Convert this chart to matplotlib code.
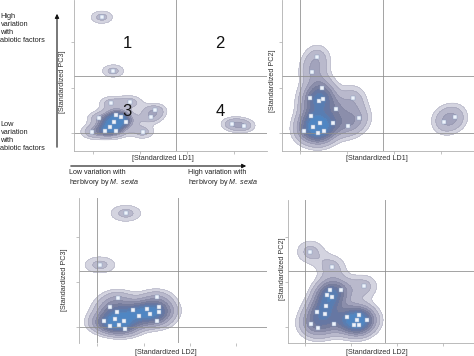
import numpy as np
import matplotlib
matplotlib.use("Agg")
import matplotlib.pyplot as plt
from matplotlib.patches import FancyArrowPatch

plt.rcParams['font.family'] = ['Liberation Sans', 'DejaVu Sans']
plt.rcParams['mathtext.fontset'] = 'custom'
plt.rcParams['mathtext.rm'] = 'Liberation Sans'
plt.rcParams['mathtext.it'] = 'Liberation Sans:italic'

# panel 1: PC3 vs LD1
p1_ld1 = [0.38, 0.13, 0.49, 0.60, 0.45, 0.70, 0.36, 0.26, 0.49, 1.32, 1.23, 1.06, -0.02, 0.80, 0.19, 0.43, 2.96, 3.21]
p1_pc3 = [0.66, 0.33, 0.40, 0.35, 0.24, 0.24, 0.13, 0.04, 0.04, 0.51, 0.35, 0.02, 0.02, 0.68, 2.56, 1.37, 0.20, 0.16]
# panel 2: PC2 vs LD1
p2_ld1 = [0.37, 0.26, 0.48, 0.21, 0.40, 0.50, 1.13, 0.76, 0.23, 1.25, 0.43, 0.70, 0.27, 1.03, 0.09, 0.51, 0.38, 3.06, 3.30]
p2_pc2 = [1.67, 1.35, 0.99, 0.77, 0.71, 0.76, 0.77, 0.53, 0.38, 0.34, 0.21, 0.21, 0.14, 0.16, 0.05, 0.04, -0.01, 0.25, 0.36]
# panel 3: PC3 vs LD2
p3_ld2 = [0.44, 1.28, 0.28, 0.42, 0.78, 1.07, 1.33, 1.14, 1.34, 0.91, 0.39, 0.59, 0.14, 0.48, 1.28, 0.28, 0.60, 0.62, 0.06]
p3_pc3 = [0.65, 0.66, 0.44, 0.33, 0.38, 0.39, 0.44, 0.29, 0.33, 0.24, 0.17, 0.14, 0.12, 0.04, 0.12, 0.02, -0.04, 2.53, 1.38]
# panel 4: PC2 vs LD2
p4_ld2 = [0.11, 0.58, 1.28, 0.54, 0.78, 0.47, 0.59, 0.45, 0.27, 0.44, 0.91, 1.17, 1.34, 1.12, 1.17, 1.06, 0.62, 0.13, 0.28]
p4_pc2 = [1.67, 1.33, 0.90, 0.82, 0.82, 0.70, 0.67, 0.46, 0.34, 0.29, 0.21, 0.26, 0.16, 0.16, 0.04, 0.04, 0.06, 0.07, -0.03]

quadrants = ["1", "2", "3", "4"]

W, H = 474, 356
fig = plt.figure(figsize=(W / 100, H / 100), dpi=100)


def px_axes(l, t, r, b):
    return fig.add_axes([l / W, 1 - b / H, (r - l) / W, (b - t) / H])


def ftext(x, y, s, **kw):
    fig.text(x / W, 1 - y / H, s, **kw)


colors = ['#d4d4e0', '#b9b9cc', '#a2a3bc', '#8b8eab', '#777e9f', '#6677a3', '#587db2', '#4f86c3']


def panel(ax, xs, ys, hx, hy, xlim, ylim, vlines, hlines, bottom_spine=True):
    xs = np.asarray(xs)
    ys = np.asarray(ys)
    gx = np.linspace(xlim[0], xlim[1], 400)
    gy = np.linspace(ylim[0], ylim[1], 400)
    X, Y = np.meshgrid(gx, gy)
    Z = np.zeros_like(X)
    for x0, y0 in zip(xs, ys):
        Z += np.exp(-0.5 * ((X - x0) / hx) ** 2 - 0.5 * ((Y - y0) / hy) ** 2)
    zmax = Z.max()
    levels = [0.5, 0.85] + list(np.linspace(1.4, zmax * 0.8, 6)) + [zmax * 1.1]
    ax.contourf(X, Y, Z, levels=levels, colors=colors, zorder=1)
    ax.contour(X, Y, Z, levels=levels[:-1], colors='#7c7c94', linewidths=0.3, alpha=0.45, zorder=1)
    for v in vlines:
        ax.axvline(v, color='#8c8c8c', lw=0.7, alpha=0.8, zorder=2)
    for h in hlines:
        ax.axhline(h, color='#8c8c8c', lw=0.7, alpha=0.8, zorder=2)
    ax.scatter(xs, ys, marker='s', s=5, facecolor='#eef3fb', edgecolor='#8fa2c2', linewidths=0.35, zorder=3)
    ax.set_xlim(xlim)
    ax.set_ylim(ylim)
    ax.set_xticks([0, 1, 2, 3])
    ax.set_yticks([0, 1, 2])
    ax.tick_params(length=2, width=0.5, color='#aaaaaa', labelbottom=False, labelleft=False)
    for s in ['top', 'right']:
        ax.spines[s].set_visible(False)
    for s in ['left', 'bottom']:
        ax.spines[s].set_color('#b0b0b0')
        ax.spines[s].set_linewidth(0.6)
    if not bottom_spine:
        ax.spines['bottom'].set_visible(False)
    ax.set_facecolor('none')


ax1 = px_axes(74, 0, 267, 151)
panel(ax1, p1_ld1, p1_pc3, 0.19, 0.115, (-0.40, 3.70), (-0.40, 2.94), [1.77], [0, 1.26])
ax2 = px_axes(282, 0, 474, 151)
panel(ax2, p2_ld1, p2_pc2, 0.21, 0.22, (-0.38, 3.70), (-0.40, 2.94), [0, 1.77], [0, 1.26])
ax3 = px_axes(79, 198, 267, 343)
panel(ax3, p3_ld2, p3_pc3, 0.27, 0.15, (-0.39, 3.66), (-0.36, 2.87), [0, 1.74], [0, 1.25], bottom_spine=False)
ax4 = px_axes(288, 200, 474, 343)
panel(ax4, p4_ld2, p4_pc2, 0.23, 0.20, (-0.37, 3.67), (-0.36, 2.82), [0, 1.74], [1.25])

lab = dict(fontsize=5.2, color='#333333', ha='center', va='center')
ftext(163, 159, '[Standardized LD1]', **lab)
ftext(377, 159, '[Standardized LD1]', **lab)
ftext(166, 352, '[Standardized LD2]', **lab)
ftext(377, 352, '[Standardized LD2]', **lab)
ftext(63, 82, '[Standardized PC3]', rotation=90, **lab)
ftext(273, 81, '[Standardized PC2]', rotation=90, **lab)
ftext(65, 280, '[Standardized PC3]', rotation=90, **lab)
ftext(283, 269, '[Standardized PC2]', rotation=90, **lab)

for q, (x, y) in zip(quadrants, [(127, 44), (220, 44), (127, 111), (220, 112)]):
    ftext(x, y, q, fontsize=12, ha='center', va='center', color='#111111')

side = dict(fontsize=5.3, color='#222222', ha='left', va='center', linespacing=1.2)
ftext(0.5, 29, 'High\nvariation\nwith\nabiotic factors', **side)
ftext(0.5, 136, 'Low\nvariation\nwith\nabiotic factors', **side)
bot = dict(fontsize=5.1, color='#222222', ha='left', va='center', linespacing=1.25)
ftext(69, 178.5, 'Low variation with\nherbivory by $\\mathit{M.\\ sexta}$', **bot)
ftext(188, 178.5, 'High variation with\nherbivory by $\\mathit{M.\\ sexta}$', **bot)

fig.add_artist(FancyArrowPatch((57 / W, 1 - 150 / H), (57 / W, 1 - 11 / H), transform=fig.transFigure,
                               arrowstyle='-|>', mutation_scale=6, lw=0.8, color='#111111'))
fig.add_artist(FancyArrowPatch((68 / W, 1 - 166 / H), (249 / W, 1 - 166 / H), transform=fig.transFigure,
                               arrowstyle='-|>', mutation_scale=6, lw=0.8, color='#111111'))

fig.savefig('out.png', dpi=100)
